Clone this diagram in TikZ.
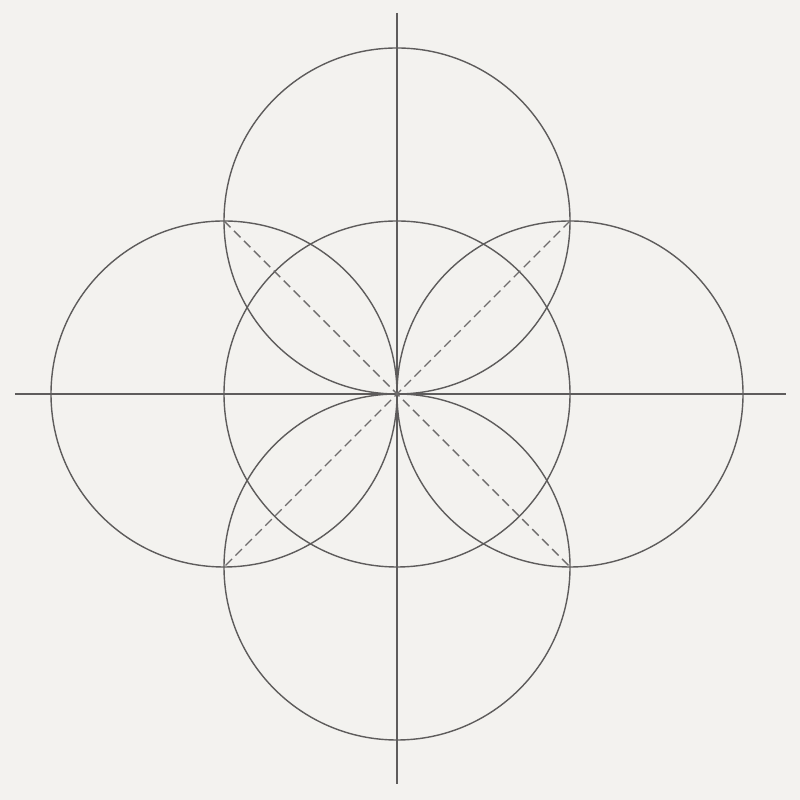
\documentclass[tikz,border=0pt]{standalone}
\usepackage{tikz}
\usepackage{xcolor}
\usetikzlibrary{calc}

\begin{document}
\begin{tikzpicture}[pencil/.style={draw=graphite,line width=0.4pt},
  guide/.style={pencil,dash pattern=on 2.6pt off 1.4pt,draw=graphite!90}]
\definecolor{paper}{HTML}{F3F2EF}
\definecolor{graphite}{HTML}{5E5C5C}
\fill[paper] (0,0) rectangle (8,8);
\useasboundingbox (0,0) rectangle (8,8);
\coordinate (mid) at (3.97,4.06);
% axes
\coordinate (axN) at (3.97,7.87);
\coordinate (axS) at (3.97,0.16);
\coordinate (axW) at (0.15,4.06);
\coordinate (axE) at (7.86,4.06);
\draw[pencil,line width=0.33pt] (axN) -- (axS);
\draw[pencil,line width=0.33pt] (axW) -- (axE);
% central circle and the four around it
\draw[pencil] (mid) circle (1.73);
  \foreach \nm/\ang in {top/90,lft/180,bot/270,rgt/0}
  {  \draw[pencil] (mid) ++(\ang:1.73) coordinate (\nm) circle (1.73);}
% corners where the outer circles meet
  \foreach \nm/\dx/\dy in {cNW/-1/1,cNE/1/1,cSW/-1/-1,cSE/1/-1}
  {  \coordinate (\nm) at ($(mid)+(\dx*1.73,\dy*1.73)$);}
\draw[guide] (cNW) -- (cSE);
\draw[guide] (cNE) -- (cSW);
\end{tikzpicture}
\end{document}
